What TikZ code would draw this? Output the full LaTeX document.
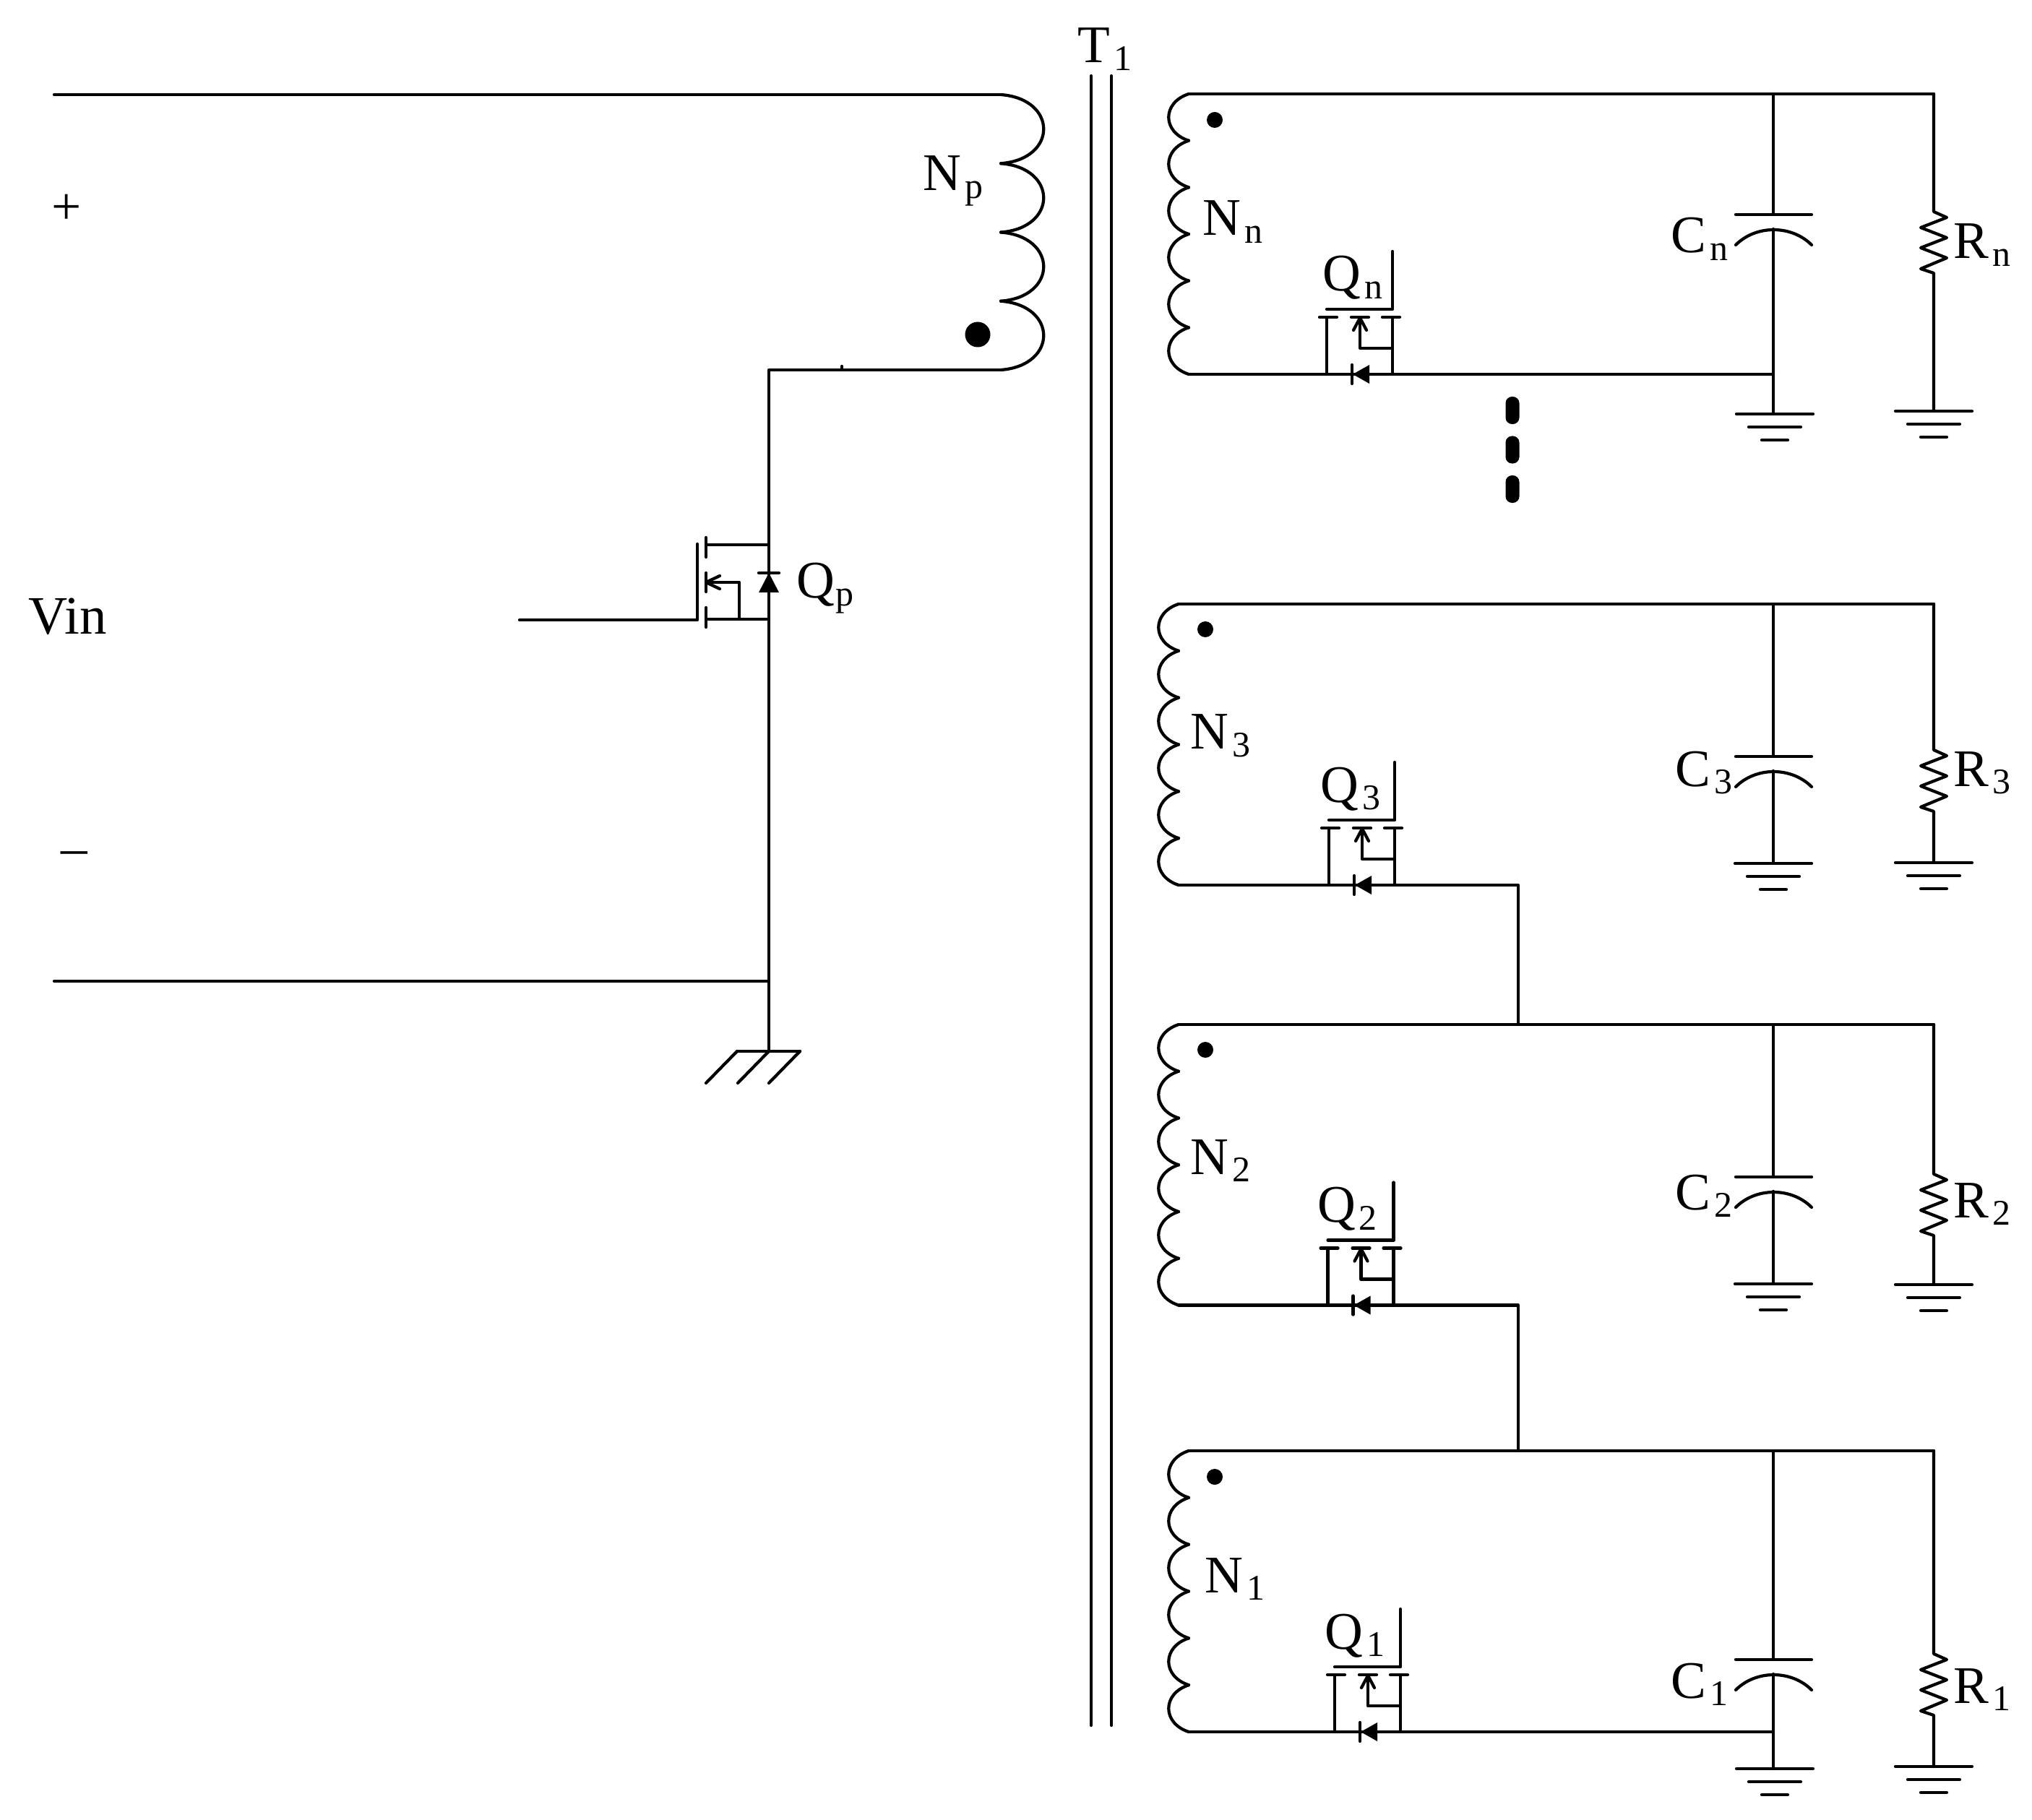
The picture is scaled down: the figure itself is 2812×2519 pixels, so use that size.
\documentclass[tikz,border=0pt]{standalone}
\usepackage{fontspec}
\setmainfont{Liberation Serif}

\tikzstyle{wire} = [line width=1.2pt, line cap=round, line join=round]
\tikzstyle{lab} = [inner sep=0pt, anchor=base west, font=\fontsize{20.8}{24}\selectfont]
\tikzstyle{sign} = [lab, anchor=base]
\tikzstyle{pill} = [fill=black, rectangle, rounded corners=0.09cm, inner sep=0pt, minimum width=0.19cm, minimum height=0.38cm]
\newcommand{\sublab}[2]{#1\kern1.4pt\raisebox{-3.1pt}{\fontsize{14.2}{16}\selectfont #2}}

\begin{document}
\begin{tikzpicture}[x=0.01cm, y=-0.01cm]
	\useasboundingbox (0,0) rectangle (2812,2519);

	% primary side
	\coordinate (in-top) at (75,131);
	\coordinate (in-bot) at (75,1358);
	\coordinate (np-top) at (1385,131);
	\coordinate (np-bot) at (1385,512);
	\coordinate (gnd-p) at (1064,1455);
	\coordinate (qp-gate) at (719,858);

	\draw[wire] (in-top) -- (np-top);
	\foreach \i in {0,...,3}{%
		\draw[wire] (1385,131+95.25*\i) .. controls (1464,137+95.25*\i) and (1464,220.25+95.25*\i) .. (1385,226.25+95.25*\i) ;}
	\draw[wire] (np-bot) -| (gnd-p);
	\draw[wire] (1165,507) -- (1165,512);
	\draw[wire] (in-bot) -- (gnd-p |- in-bot);
	\draw[wire] (1020,1455) -- (1107,1455);
	\foreach \x in {1020,1064,1107}{%
		\draw[wire] (\x,1455) -- (\x-43,1499) ;}
	\fill (1353,463) circle (17.5);

	% primary switch
	\coordinate (qp-d) at (1064,754);
	\coordinate (qp-s) at (1064,857);
	\draw[wire] (qp-gate) -- (965,858) -- (965,753);
	\draw[wire] (977,754) -- (qp-d);
	\draw[wire] (977,857) -- (qp-s);
	\foreach \y/\z in {744/771, 793/819, 841/868}{%
		\draw[wire] (977,\y) -- (977,\z) ;}
	\draw[wire] (1023,857) -- (1023,806) -- (977,806);
	\draw[wire] (996,797) -- (977,806) -- (996,815);
	\draw[wire] (1050,793) -- (1078,793);
	\fill (1064,793) -- (1078,820) -- (1050,820) -- cycle;

	% core
	\coordinate (core-a) at (1510,105);
	\coordinate (core-b) at (1538,105);
	\draw[wire] (core-a) -- ++(0,2283);
	\draw[wire] (core-b) -- ++(0,2283);

	% secondary windings
	\foreach \k/\cx/\ty/\by/\dx/\dy/\nx/\ny in {n/1645/130/518/1681/166/1664/326, 3/1631/836/1225/1668/871/1647/1037, 2/1631/1418/1806.5/1668/1453/1647/1625, 1/1645/2008/2397/1681/2044/1667/2204}{%
		\pgfmathsetmacro\h{(\by-\ty)/6}
		\coordinate (wt\k) at (\cx,\ty);
		\coordinate (wb\k) at (\cx,\by);
		\foreach \i in {0,...,5}{%
			\draw[wire] (\cx,\ty+\h*\i) .. controls (\cx-37,\ty+\h*\i+12) and (\cx-37,\ty+\h*\i+\h-12) .. (\cx,\ty+\h*\i+\h) ;}
		\fill (\dx,\dy) circle (11);
		\node[lab] (N\k) at (\nx,\ny) {\sublab{N}{\k}};
	}

	% secondary switches
	\foreach \k/\x/\y/\qx in {n/1836/518/-6, 3/1839/1225/-12, 2/1837.5/1806.5/-15, 1/1847/2397/-14}{%
		\begin{scope}[shift={(\x,\y)}]
			\coordinate (Q\k l) at (0,0);
			\coordinate (Q\k r) at (91,0);
			\draw[wire] (0,-90) -- (91,-90) -- (91,-170);
			\foreach \b in {2,46,89}{%
				\draw[wire] (\b-12,-79) -- (\b+12,-79) ;}
			\draw[wire] (0,-79) -- (Q\k l);
			\draw[wire] (91,-79) -- (Q\k r);
			\draw[wire] (91,-36) -- (46,-36) -- (46,-78);
			\draw[wire] (37,-61) -- (46,-78) -- (55,-61);
			\draw[wire] (35,-13) -- (35,13);
			\fill (36,0) -- (59,-13) -- (59,13) -- cycle;
			\node[lab] (Q\k) at (\qx,-115) {\sublab{Q}{\k}};
		\end{scope}
		\draw[wire] (wb\k) -- (Q\k l) -- (Q\k r);
	}

	% outputs
	\foreach \k/\ty/\py/\gc/\cgx/\zy/\gr/\lx/\lcy/\lry in {n/130/297/573/2456/293/569/2312/350/358, 3/836/1047/1195/2454/1038/1194/2318/1088/1088, 2/1418/1629/1777/2454/1625/1778/2318/1674/1685, 1/2008/2297/2448/2456/2289/2445/2312/2350/2357}{%
		\coordinate (ct\k) at (2454,\ty);
		\coordinate (rt\k) at (2676,\ty);
		\draw[wire] (wt\k) -- (rt\k);
		\draw[wire] (ct\k) -- (2454,\py);
		\draw[wire] (2402,\py) -- (2507,\py);
		\draw[wire] (2402,\py+42) .. controls (2430,\py+14) and (2479,\py+14) .. (2507,\py+42);
		\draw[wire] (2454,\py+20) -- (2454,\gc);
		\foreach \i/\w in {0/53,1/36,2/18}{%
			\draw[wire] (\cgx-\w,\gc+18*\i) -- (\cgx+\w,\gc+18*\i) ;}
		\draw[wire] (rt\k) -- (2676,\zy) -- ++(18,8) -- ++(-36,14) -- ++(36,14) -- ++(-36,14) -- ++(36,14) -- ++(-36,15) -- ++(18,6) -- (2676,\gr);
		\foreach \i/\w in {0/53,1/36,2/18}{%
			\draw[wire] (2676-\w,\gr+18*\i) -- (2676+\w,\gr+18*\i) ;}
		\node[lab] (C\k) at (\lx,\lcy) {\sublab{C}{\k}};
		\node[lab] (R\k) at (2703,\lry) {\sublab{R}{\k}};
	}

	% links between stages
	\coordinate (cn) at (2454,518);
	\coordinate (c1) at (2454,2397);
	\coordinate (j2) at (2101,1418);
	\coordinate (j1) at (2101,2008);
	\draw[wire] (Qnr) -- (cn);
	\draw[wire] (Q1r) -- (c1);
	\draw[wire] (Q3r) -| (j2);
	\draw[wire] (Q2r) -| (j1);

	\foreach \y in {568,622.5,677}{%
		\node[pill] (more\y) at (2093,\y) {} ;}

	% labels
	\node[lab] (T1) at (1491,87) {\sublab{T}{1}};
	\node[lab] (Np) at (1277,264) {\sublab{N}{p}};
	\node[lab] (Qp) at (1102,828) {\sublab{Q\kern-1pt}{p}};
	\node[lab, font=\fontsize{21.3}{24}\selectfont] (Vin) at (39,878) {Vin};
	\node[sign] (plus) at (92,311) {+};
	\node[sign] (minus) at (103,1197) {–};
\end{tikzpicture}
\end{document}
